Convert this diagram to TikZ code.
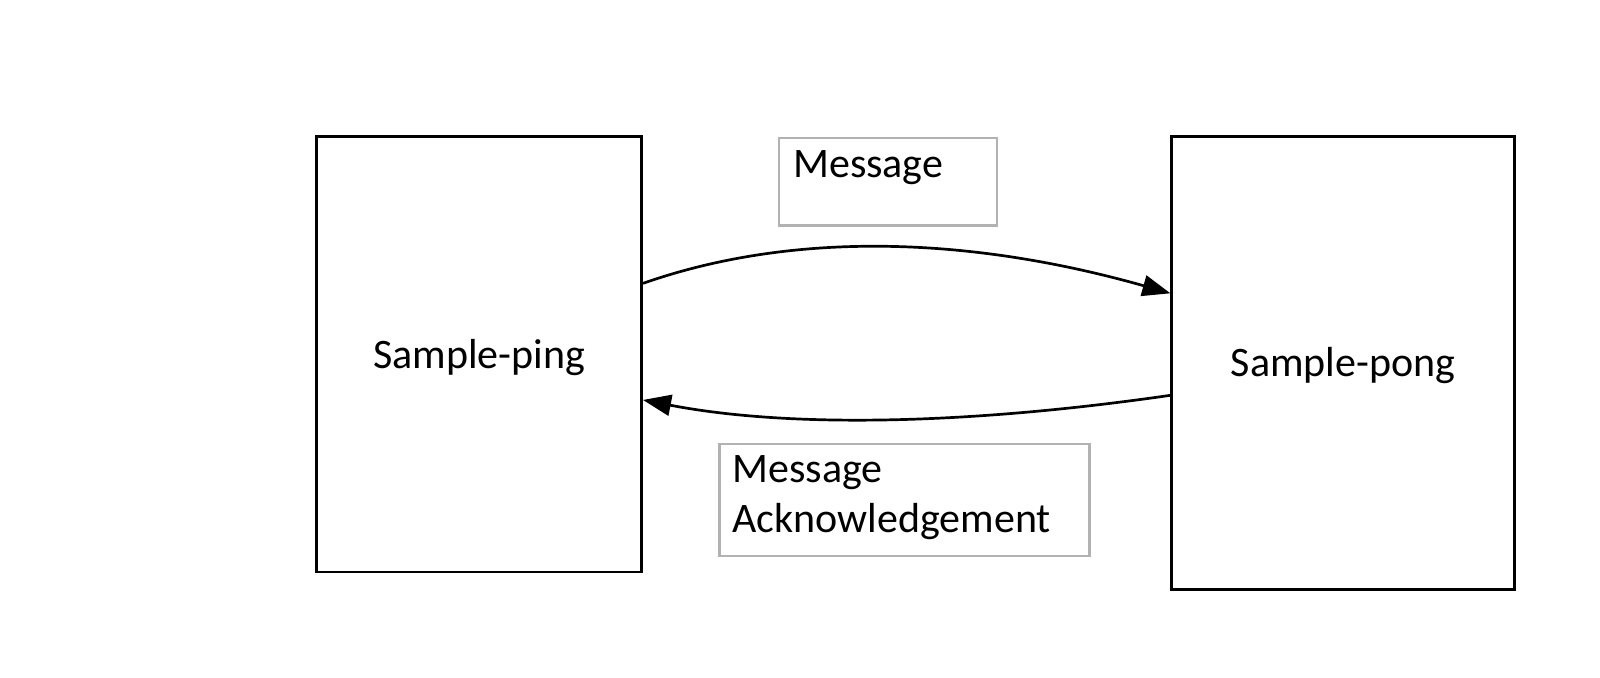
\documentclass[tikz,border=0pt]{standalone}
\usepackage{fontspec}
\setmainfont{Carlito}
\usetikzlibrary{arrows.meta}
\definecolor{boxgray}{RGB}{178,178,178}
\begin{document}
\begin{tikzpicture}[x=0.5pt,y=-0.5pt,
  every node/.style={font=\fontsize{21}{25}\selectfont},
  mainbox/.style={draw=black, line width=1.3pt, inner sep=0pt, align=center, text height=17.15pt, text depth=3.5pt},
  labelbox/.style={draw=boxgray, line width=1.2pt, anchor=north west, align=left, inner ysep=0pt},
  conn/.style={line width=1.35pt, -{Triangle[length=14pt,width=10.5pt]}}]
\useasboundingbox (0,0) rectangle (1600,677);
\node[mainbox, minimum width=162.5pt, minimum height=217.65pt] (ping) at (479.2,354.35) {Sample-ping};
\node[mainbox, minimum width=171.3pt, minimum height=226.5pt] (pong) at (1343,363.2) {Sample-pong};
\node[labelbox, inner xsep=7pt, text width=94.85pt, text height=20pt, text depth=23.8pt] (msg) at (778,136.7) {Message};
\node[labelbox, inner xsep=6.5pt, text width=172pt, text height=19.5pt, text depth=36.65pt] (ack) at (718.3,442.7) {Message\\Acknowledgement};
\draw[conn] ([yshift=35.5pt]ping.east) .. controls (792,231) and (968,236) .. ([yshift=34.95pt]pong.west);
\draw[conn] ([yshift=-16.05pt]pong.west) .. controls (960,425.7) and (785,427.3) .. ([yshift=-22.8pt]ping.east);
\end{tikzpicture}
\end{document}
